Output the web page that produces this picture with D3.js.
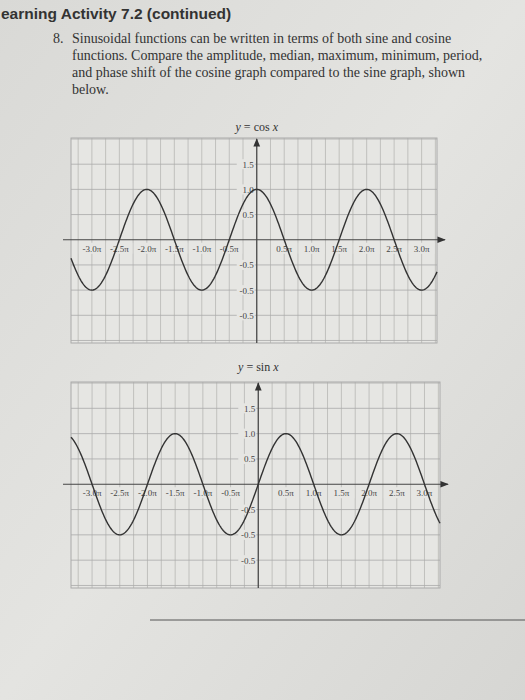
<!DOCTYPE html>
<html><head><meta charset="utf-8">
<script src="https://cdn.jsdelivr.net/npm/d3@7"></script>
<style>body{margin:0;background:#ddd}</style></head>
<body><svg id="s" width="525" height="700"></svg>
<script>
const xTickPi = [-3.0,-2.5,-2.0,-1.5,-1.0,-0.5,0.5,1.0,1.5,2.0,2.5,3.0];
const yTickVals = [1.5,1.0,0.5,-0.5,-1.0,-1.5];
const yTickLabels = ["1.5","1.0","0.5","-0.5","-0.5","-0.5"];
const paragraph = ["Sinusoidal functions can be written in terms of both sine and cosine",
 "functions. Compare the amplitude, median, maximum, minimum, period,",
 "and phase shift of the cosine graph compared to the sine graph, shown",
 "below."];

const svg = d3.select("#s");
const defs = svg.append("defs");
const g = defs.append("linearGradient").attr("id","bg").attr("x1",0).attr("y1",0).attr("x2",1).attr("y2",1);
g.append("stop").attr("offset","0").attr("stop-color","#d9d9d6");
g.append("stop").attr("offset","0.5").attr("stop-color","#e4e4e1");
g.append("stop").attr("offset","1").attr("stop-color","#d6d6d3");
svg.append("rect").attr("width",525).attr("height",700).attr("fill","url(#bg)");
defs.append("marker").attr("id","ar").attr("viewBox","0 0 10 10").attr("refX",9).attr("refY",5)
 .attr("markerWidth",7).attr("markerHeight",7).attr("orient","auto")
 .append("path").attr("d","M0,1L10,5L0,9Z").attr("fill","#333");

svg.append("text").attr("x",1).attr("y",19).attr("font-family","Liberation Sans").attr("font-weight","bold")
 .attr("font-size",15.5).attr("fill","#333").text("earning Activity 7.2 (continued)");
svg.append("text").attr("x",53).attr("y",43).attr("font-family","Liberation Serif").attr("font-size",14).attr("fill","#333").text("8.");
paragraph.forEach((t,i)=>svg.append("text").attr("x",72).attr("y",43+i*17).attr("font-family","Liberation Serif")
 .attr("font-size",14).attr("fill","#333").text(t));

function chart(top, box, fn, title){
  const x = d3.scaleLinear().domain([-3.38,3.28]).range([box.l,box.r]);
  const y = d3.scaleLinear().domain([-2.05,2.02]).range([box.b,box.t]);
  const c = svg.append("g");
  c.append("rect").attr("x",box.l).attr("y",box.t).attr("width",box.r-box.l).attr("height",box.b-box.t).attr("fill","#e6e6e3").attr("stroke","#aaa");
  const vx = d3.range(-13,14).map(i=>i*0.25).filter(v=>x(v)>box.l+1&&x(v)<box.r-1);
  c.selectAll(".v").data(vx).join("line").attr("x1",d=>x(d)).attr("x2",d=>x(d)).attr("y1",box.t).attr("y2",box.b).attr("stroke","#b0b0ae").attr("stroke-width",0.7);
  const hy = [2,1.5,1,0.5,-0.5,-1,-1.5,-2].filter(v=>y(v)>box.t+1&&y(v)<box.b-1);
  c.selectAll(".h").data(hy).join("line").attr("x1",box.l).attr("x2",box.r).attr("y1",d=>y(d)).attr("y2",d=>y(d)).attr("stroke","#aaa").attr("stroke-width",0.8);
  c.append("line").attr("x1",box.l-8).attr("x2",box.r+8).attr("y1",y(0)).attr("y2",y(0)).attr("stroke","#444").attr("stroke-width",1.2).attr("marker-end","url(#ar)");
  c.append("line").attr("x1",x(0)).attr("x2",x(0)).attr("y1",box.b).attr("y2",box.t+1).attr("stroke","#444").attr("stroke-width",1.2).attr("marker-end","url(#ar)");
  c.selectAll(".xb").data(xTickPi).join("rect").attr("x",d=>x(d)-13).attr("y",y(0)+3).attr("width",26).attr("height",11).attr("fill","#e6e6e3");
  c.selectAll(".xl2").data(xTickPi).join("text").attr("x",d=>x(d)).attr("y",y(0)+12)
    .attr("text-anchor","middle").attr("font-family","Liberation Serif").attr("font-size",9).attr("fill","#444").text(d=>d.toFixed(1)+"π");
  c.selectAll(".yb").data(yTickVals).join("rect").attr("x",x(0)-20).attr("y",d=>y(d)-5).attr("width",18).attr("height",10).attr("fill","#e6e6e3");
  c.selectAll(".yl").data(yTickVals).join("text").attr("x",x(0)-3).attr("y",d=>y(d)+3.5)
    .attr("text-anchor","end").attr("font-family","Liberation Serif").attr("font-size",9).attr("fill","#444").text((d,i)=>yTickLabels[i]);
  const pts = d3.range(0,401).map(i=>{const v=x.domain()[0]+(x.domain()[1]-x.domain()[0])*i/400;return [v,fn(v*Math.PI)];});
  c.append("path").datum(pts).attr("d",d3.line().x(d=>x(d[0])).y(d=>y(d[1]))).attr("fill","none").attr("stroke","#333").attr("stroke-width",1.4);
  svg.append("text").attr("x",x(0)).attr("y",top).attr("text-anchor","middle").attr("font-family","Liberation Serif")
    .attr("font-size",12).attr("fill","#333").html('<tspan font-style="italic">y</tspan> = '+title+' <tspan font-style="italic">x</tspan>');
}
chart(131,{l:71,r:437,t:138,b:343},Math.cos,"cos");
chart(371,{l:71,r:440,t:382,b:588},Math.sin,"sin");
svg.append("line").attr("x1",150).attr("x2",525).attr("y1",620).attr("y2",620).attr("stroke","#555").attr("stroke-width",1);
</script></body></html>
